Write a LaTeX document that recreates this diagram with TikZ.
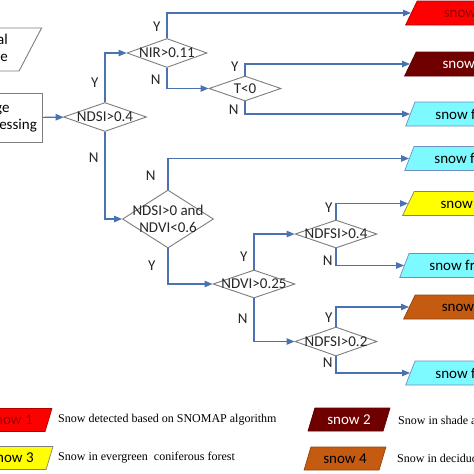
\documentclass[tikz,border=0pt]{standalone}
\usepackage{fontspec}
\setmainfont{Carlito}
\newfontfamily\legfamily{Liberation Serif}
\usetikzlibrary{arrows.meta,positioning,shapes.geometric}
\newcommand\fcfont{\fontsize{15}{17}\selectfont}
\newcommand\lgfont{\legfamily\fontsize{12}{14}\selectfont}
\tikzset{
  decbox/.style ={diamond, draw=diagray, line width=0.9pt, fill=white,
                  inner sep=0pt, minimum width=#1, minimum height=28pt},
  dectxt/.style ={font=\fcfont, text=black!85, align=center},
  outbox/.style ={trapezium, trapezium left angle=62, trapezium right angle=118,
                  trapezium stretches=true, minimum width=120pt,
                  minimum height=24pt, inner sep=0pt, line width=0.7pt,
                  font=\fcfont, anchor=west},
  legbox/.style ={trapezium, trapezium left angle=66, trapezium right angle=114,
                  trapezium stretches=true, minimum width=82pt,
                  minimum height=23pt, inner sep=0pt, line width=0.7pt,
                  font=\fcfont},
  legtxt/.style ={font=\lgfont, anchor=west, inner sep=0pt},
  inbox/.style  ={draw=diagray, line width=0.9pt, fill=white,
                  font=\fcfont, inner sep=0pt},
  yn/.style     ={font=\fcfont, text=black!85, inner sep=1pt, left=5pt},
  arr/.style    ={-{Triangle[length=8pt,width=6.5pt]}, line width=1.1pt,
                  draw=linkblue},
}
\definecolor{linkblue}{RGB}{74,114,176}
\definecolor{diagray} {RGB}{125,125,125}
\definecolor{snowred} {RGB}{255,0,0}
\definecolor{redtxt}  {RGB}{150,0,0}
\definecolor{shaded}  {RGB}{112,0,0}
\definecolor{freecyan}{RGB}{125,250,255}
\definecolor{evergold}{RGB}{255,255,0}
\definecolor{decibrown}{RGB}{197,90,17}

\begin{document}
\begin{tikzpicture}[x=1pt, y=-1pt]
  \useasboundingbox (0,0) rectangle (474,474);
  \clip (0,0) rectangle (474,474);

  % inputs
  \node[inbox, trapezium, trapezium left angle=63, trapezium right angle=117,
        trapezium stretches=true, minimum width=116pt, minimum height=43pt,
        align=right] (inimg) at (-16,49.5) {Original\\image};
  \node[inbox, minimum width=75pt, minimum height=49pt, align=left]
        (proc) at (4.5,117.5) {Image\\processing};

  % decisions
  \node[decbox=83pt, minimum height=29pt] (ndsi) at (105,117) {};
  \node[dectxt] at (ndsi) {NDSI>0.4};
  \node[decbox=80pt, minimum height=29pt] (nir) at (167,53) {};
  \node[dectxt] at (nir) {NIR>0.11};
  \node[decbox=72pt, minimum height=25pt] (tzero) at (245,88.5) {};
  \node[dectxt] at (tzero) {T<0};
  \node[decbox=91pt, minimum height=58pt] (ndsiveg) at (168,219) {};
  \node[dectxt] at (ndsiveg) {NDSI>0 and\\NDVI<0.6};
  \node[decbox=82pt] (ndvi) at (254,284) {};
  \node[dectxt] at (ndvi) {NDVI>0.25};
  \node[decbox=82pt] (ndfsia) at (336,234) {};
  \node[dectxt] at (ndfsia) {NDFSI>0.4};
  \node[decbox=82pt, minimum height=29pt] (ndfsib) at (336,341.5) {};
  \node[dectxt] at (ndfsib) {NDFSI>0.2};

  % classes
  \node[outbox, fill=snowred, draw=snowred!70!black, text=redtxt]
        (snowone) at (411,13) {snow 1};
  \node[outbox, fill=shaded, draw=shaded!80!black, text=white]
        (snowtwo) at (410,64) {snow 2};
  \node[outbox, fill=freecyan, draw=linkblue!80] (freeone) at (410,114) {snow free};
  \node[outbox, fill=freecyan, draw=linkblue!80] (freetwo) at (409,158.5) {snow free};
  \node[outbox, fill=evergold, draw=gray] (snowthree) at (408,203.5) {snow 3};
  \node[outbox, fill=freecyan, draw=linkblue!80] (freethree) at (404,265.5) {snow free};
  \node[outbox, fill=decibrown, draw=decibrown!75!black] (snowfour) at (409,307) {snow 4};
  \node[outbox, fill=freecyan, draw=linkblue!80] (freefour) at (410,373) {snow free};

  % legend
  \node[legbox, fill=snowred, draw=snowred!70!black, text=redtxt]
        (legone) at (11,420) {snow 1};
  \node[legtxt] (legonetxt) at (58,420) {Snow detected based on SNOMAP algorithm};
  \node[legbox, fill=shaded, draw=shaded!80!black, text=white]
        (legtwo) at (349,419.5) {snow 2};
  \node[legtxt] (legtwotxt) at (398,420) {Snow in shade area};
  \node[legbox, fill=evergold, draw=gray] (legthree) at (12,458) {snow 3};
  \node[legtxt] (legthreetxt) at (58,458) {Snow in evergreen\ \ coniferous forest};
  \node[legbox, fill=decibrown, draw=decibrown!75!black]
        (legfour) at (345,458.5) {snow 4};
  \node[legtxt] (legfourtxt) at (397,458) {Snow in deciduous forest};

  \draw[arr] (proc) -- (ndsi);
  \draw[arr] (ndsi.north) |- node[yn, pos=0.2] {Y} (nir.west);
  \draw[arr] (ndsi.south) |- node[yn, pos=0.15] {N} (ndsiveg.west);
  \draw[arr] (nir.north) |- node[yn, pos=0.22] {Y} (snowone.west);
  \draw[arr] (nir.south) |- node[yn, pos=0.28] {N} (tzero.west);
  \draw[arr] (tzero.north) |- node[yn, pos=0.37] {Y} (snowtwo.west);
  \draw[arr] (tzero.south) |- node[yn, pos=0.31] {N} (freeone.west);
  \draw[arr] (ndsiveg.north) |- node[yn, pos=0.23, left=11pt] {N} (freetwo.west);
  \draw[arr] (ndsiveg.south) |- node[yn, pos=0.24, left=11pt] {Y} (ndvi.west);
  \draw[arr] (ndvi.north) |- node[yn, pos=0.18] {Y} (ndfsia.west);
  \draw[arr] (ndvi.south) |- node[yn, pos=0.24] {N} (ndfsib.west);
  \draw[arr] (ndfsia.north) |- node[yn, pos=0.36, left=2pt] {Y} (snowthree.west);
  \draw[arr] (ndfsia.south) |- node[yn, pos=0.37, left=2pt] {N} (freethree.west);
  \draw[arr] (ndfsib.north) |- node[yn, pos=0.22, left=2pt] {Y} (snowfour.west);
  \draw[arr] (ndfsib.south) |- node[yn, pos=0.2, left=2pt] {N} (freefour.west);
\end{tikzpicture}
\end{document}
